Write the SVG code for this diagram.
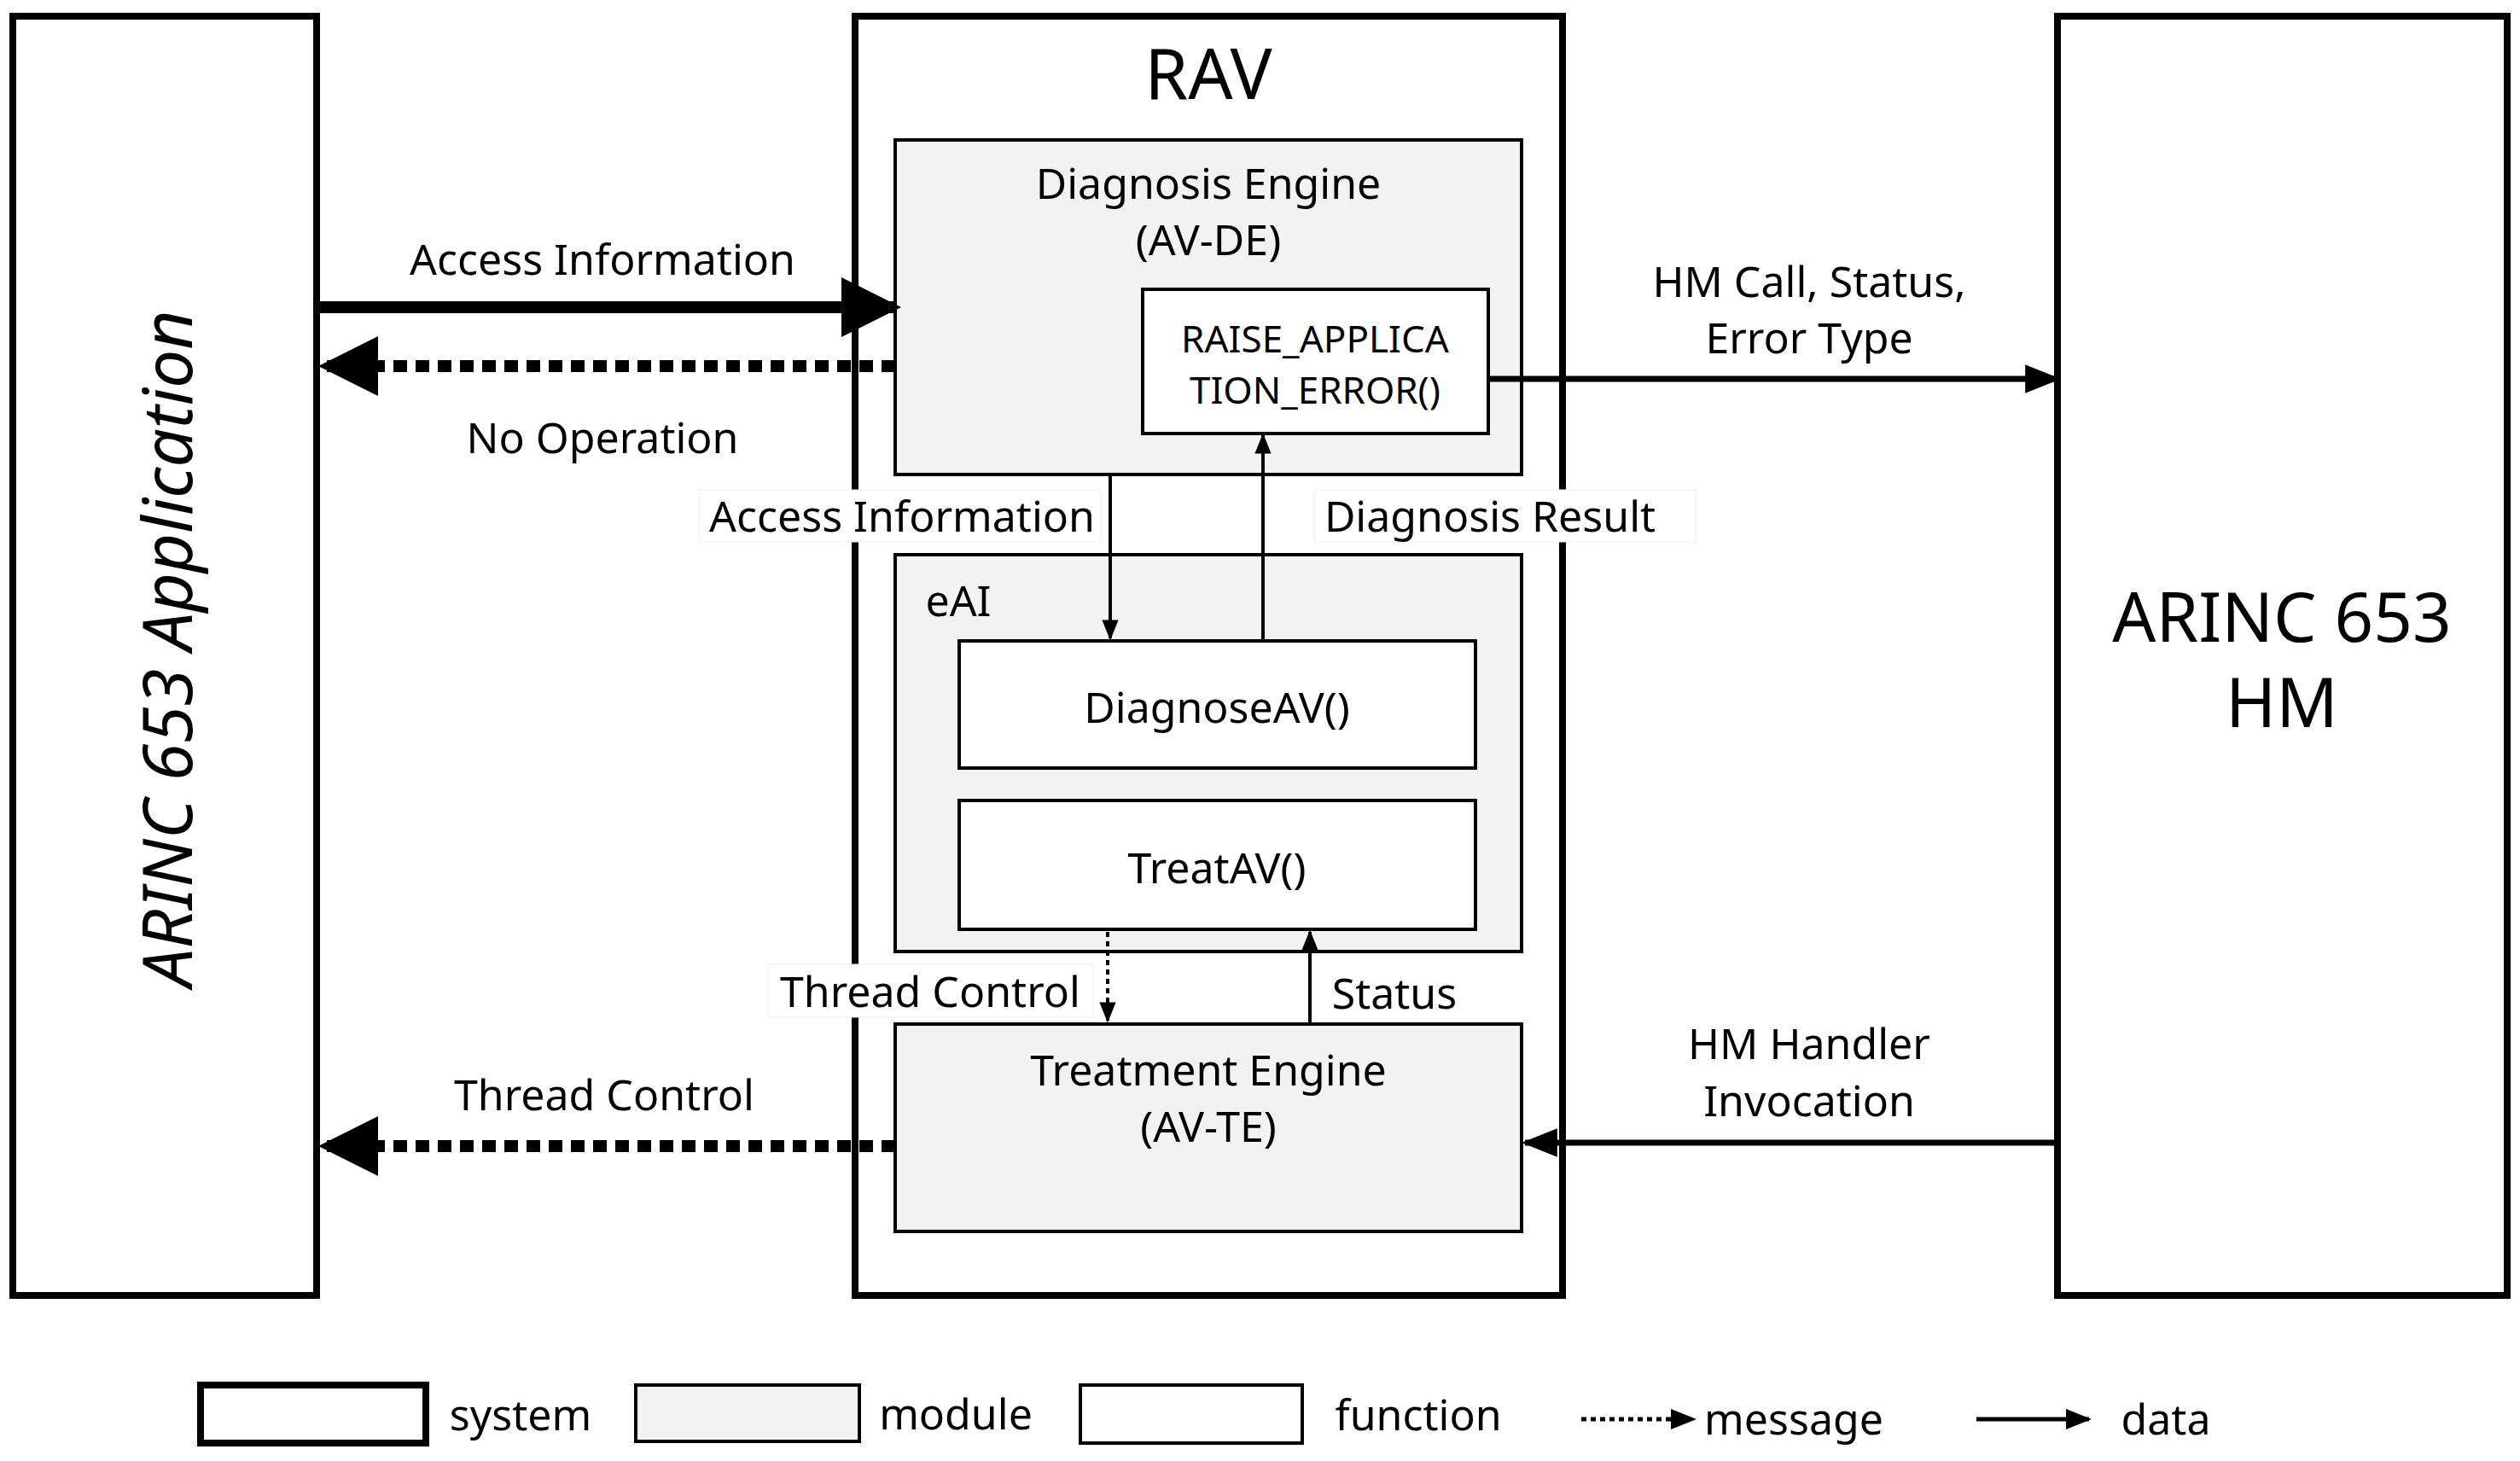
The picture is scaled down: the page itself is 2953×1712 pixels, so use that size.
<svg xmlns="http://www.w3.org/2000/svg" width="2953" height="1712" viewBox="0 0 2953 1712">
<defs>
<style>
text{font-family:"Noto Sans","Liberation Sans",sans-serif;fill:#000;dominant-baseline:central;text-anchor:middle}
.sys{fill:#fff;stroke:#000;stroke-width:8}
.mod{fill:#f2f2f2;stroke:#000;stroke-width:4}
.fn{fill:#fff;stroke:#000;stroke-width:4}
.l{font-size:50px}
.lbl{fill:#fff;stroke:#eee;stroke-width:1}
</style>
<marker id="big" viewBox="0 0 10 10" refX="9" refY="5" markerWidth="5" markerHeight="5" orient="auto" markerUnits="strokeWidth"><path d="M0,0L10,5L0,10z"/></marker>
<marker id="sm" viewBox="0 0 10 10" refX="9" refY="5" markerWidth="6" markerHeight="6" orient="auto" markerUnits="strokeWidth"><path d="M0,1L10,5L0,9z"/></marker>
</defs>
<g id="app"><rect class="sys" x="15" y="19" width="356" height="1499"/>
<text transform="translate(193,760) rotate(-90)" font-size="80" font-style="italic">ARINC 653 Application</text></g>
<g id="rav"><rect class="sys" x="1002" y="19" width="829" height="1499"/><text x="1416" y="84" font-size="82">RAV</text></g>
<g id="hm"><rect class="sys" x="2411" y="19" width="527" height="1499"/><text x="2674" y="720" font-size="80">ARINC 653</text><text x="2674" y="820" font-size="80">HM</text></g>
<g id="de"><rect class="mod" x="1049" y="164" width="734" height="392"/><text class="l" x="1416" y="214">Diagnosis Engine</text><text class="l" x="1416" y="280">(AV-DE)</text></g>
<g id="raise"><rect class="fn" x="1339" y="339" width="405" height="169"/><text x="1541" y="396" font-size="44">RAISE_APPLICA</text><text x="1541" y="456" font-size="44">TION_ERROR()</text></g>
<g id="eai"><rect class="mod" x="1049" y="650" width="734" height="465"/><text class="l" x="1123" y="703">eAI</text></g>
<g id="diag"><rect class="fn" x="1124" y="751" width="605" height="149"/><text class="l" x="1426" y="828">DiagnoseAV()</text></g>
<g id="treat"><rect class="fn" x="1124" y="938" width="605" height="151"/><text class="l" x="1426" y="1016">TreatAV()</text></g>
<g id="te"><rect class="mod" x="1049" y="1200" width="734" height="243"/><text class="l" x="1416" y="1253">Treatment Engine</text><text class="l" x="1416" y="1319">(AV-TE)</text></g>
<g id="connectors">
<line x1="371" y1="360" x2="1049" y2="360" stroke="#000" stroke-width="14" marker-end="url(#big)"/>
<line x1="1049" y1="429" x2="380" y2="429" stroke="#000" stroke-width="14" stroke-dasharray="16 10" marker-end="url(#big)"/>
<line x1="1744" y1="444" x2="2411" y2="444" stroke="#000" stroke-width="7" marker-end="url(#sm)"/>
<line x1="1301" y1="556" x2="1301" y2="748" stroke="#000" stroke-width="4" marker-end="url(#sm)"/>
<line x1="1480" y1="750" x2="1480" y2="510" stroke="#000" stroke-width="4" marker-end="url(#sm)"/>
<line x1="1298" y1="1092" x2="1298" y2="1196" stroke="#000" stroke-width="4" stroke-dasharray="6 5" marker-end="url(#sm)"/>
<line x1="1535" y1="1200" x2="1535" y2="1092" stroke="#000" stroke-width="4" marker-end="url(#sm)"/>
<line x1="1049" y1="1343" x2="380" y2="1343" stroke="#000" stroke-width="14" stroke-dasharray="16 10" marker-end="url(#big)"/>
<line x1="2411" y1="1339" x2="1787" y2="1339" stroke="#000" stroke-width="7" marker-end="url(#sm)"/>
<text class="l" x="706" y="303">Access Information</text>
<text class="l" x="706" y="512">No Operation</text>
<text class="l" x="2120" y="329">HM Call, Status,</text>
<text class="l" x="2120" y="395">Error Type</text>
<rect class="lbl" x="819" y="574" width="471" height="61"/><text class="l" x="1057" y="604">Access Information</text>
<rect class="lbl" x="1540" y="574" width="447" height="61"/><text class="l" x="1746" y="604">Diagnosis Result</text>
<rect class="lbl" x="900" y="1130" width="381" height="62"/><text class="l" x="1090" y="1161">Thread Control</text>
<text class="l" x="1634" y="1163">Status</text>
<text class="l" x="708" y="1282">Thread Control</text>
<text class="l" x="2120" y="1222">HM Handler</text>
<text class="l" x="2120" y="1289">Invocation</text>
</g>
<g id="legend">
<rect class="sys" x="235" y="1623" width="264" height="68"/><text class="l" x="610" y="1657">system</text>
<rect class="mod" x="745" y="1623" width="262" height="66"/><text class="l" x="1120" y="1656">module</text>
<rect class="fn" x="1266" y="1623" width="260" height="68"/><text class="l" x="1662" y="1657">function</text>
<line x1="1853" y1="1663" x2="1985" y2="1663" stroke="#000" stroke-width="5" stroke-dasharray="6 5" marker-end="url(#sm)"/><text class="l" x="2102" y="1662">message</text>
<line x1="2316" y1="1663" x2="2448" y2="1663" stroke="#000" stroke-width="5" marker-end="url(#sm)"/><text class="l" x="2538" y="1662">data</text>
</g>
</svg>
